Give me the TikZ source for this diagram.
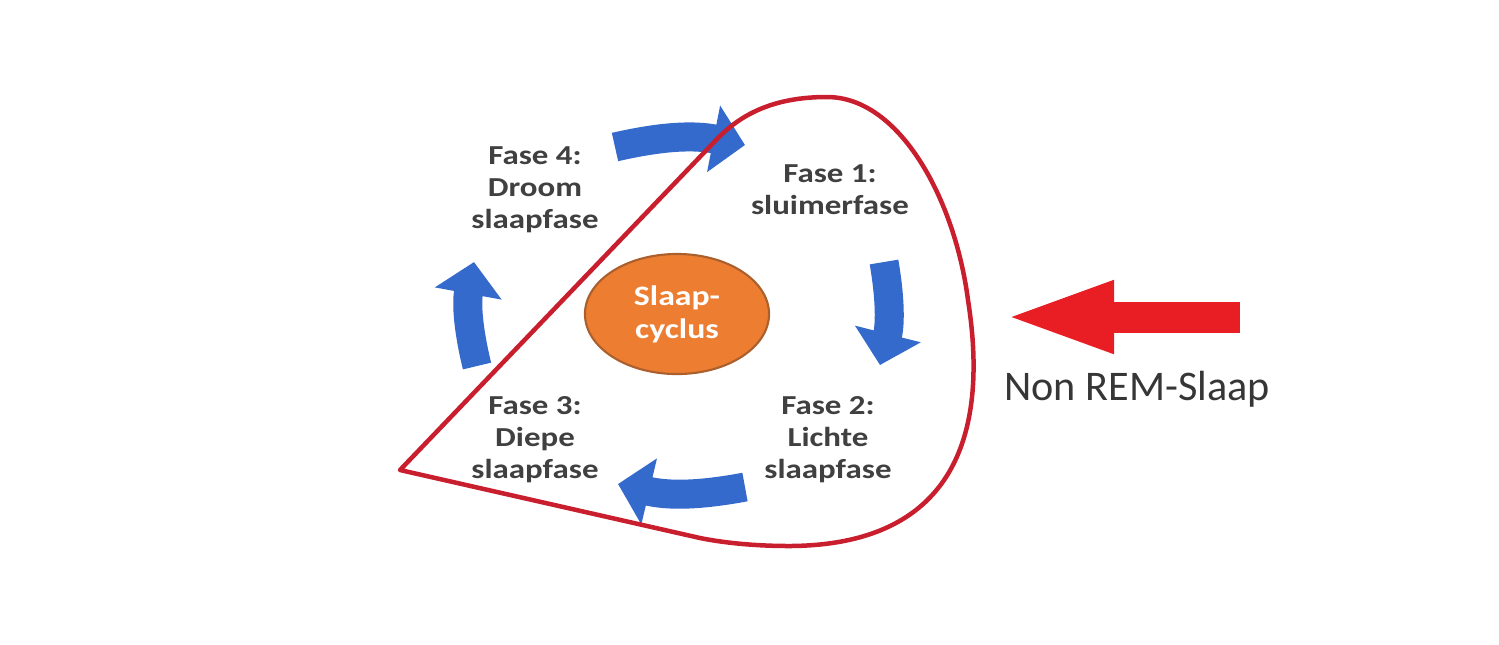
\documentclass[tikz,border=0pt]{standalone}
\usepackage{fontspec}
\setmainfont{Carlito}
\newfontfamily\fasefont[FakeStretch=1.2]{Carlito}
\usepackage{tikz}
\usetikzlibrary{arrows.meta, shapes.geometric}
\definecolor{cycleblue}{RGB}{52,106,204}
\definecolor{cycleorange}{RGB}{237,125,49}
\definecolor{cycleborder}{RGB}{170,95,45}
\definecolor{outlinered}{RGB}{200,30,45}
\definecolor{arrowred}{RGB}{232,30,36}
\definecolor{labelgray}{RGB}{64,64,64}

\begin{document}
\begin{tikzpicture}[x=0.01cm, y=-0.01cm]
    % Setup the styles
        \tikzset{fase style/.style={align=center,
                                    text=labelgray,
                                    font=\fasefont\bfseries\fontsize{7.8}{9.1}\selectfont},
                 cycle arrow/.style={line width=0.29cm,
                                     color=cycleblue,
                                     bend left=12,
                                     -{Triangle[width=0.66cm,length=0.32cm]}}}
        \useasboundingbox (0, 0) rectangle (1499, 644);

        % Draw the phases
        \node[fase style] at (535, 190)  (fase4) {Fase 4:\\Droom\\slaapfase};
        \node[fase style] at (830, 190)  (fase1) {Fase 1:\\sluimerfase};
        \node[fase style] at (828, 440)  (fase2) {Fase 2:\\Lichte\\slaapfase};
        \node[fase style] at (535, 440)  (fase3) {Fase 3:\\Diepe\\slaapfase};
        \node[ellipse, minimum width=1.84cm, minimum height=1.2cm,
              fill=cycleorange, draw=cycleborder, line width=0.6pt,
              text=white, align=center,
              font=\fasefont\bfseries\fontsize{8}{9.4}\selectfont]
              at (677, 314) (cyclus) {Slaap-\\cyclus};
        \node[text=labelgray!85!black, font=\fontsize{12}{14}\selectfont]
              at (1137, 389) (nonrem) {Non REM-Slaap};

        % Ends of the arrows
        \coordinate (f4out) at (615, 147);
        \coordinate (f1in)  at (745, 145);
        \coordinate (f1out) at (884, 262);
        \coordinate (f2in)  at (880, 365);
        \coordinate (f2out) at (745, 487);
        \coordinate (f3in)  at (618, 484);
        \coordinate (f3out) at (477, 366);
        \coordinate (f4in)  at (474, 262);
        \coordinate (remtail) at (1240, 317);
        \coordinate (remtip)  at (1001, 317);

        % Connect the phases with arrows
        \path
            (f4out) edge[cycle arrow] (f1in)
            (f1out) edge[cycle arrow] (f2in)
            (f2out) edge[cycle arrow] (f3in)
            (f3out) edge[cycle arrow] (f4in);

        % Outline of the non REM part
        \coordinate (corner) at (400, 470);
        \draw[outlinered, line width=0.045cm, line join=round]
            (corner) -- (718, 138)
            .. controls (750, 105) and (790, 97) .. (827, 97)
            .. controls (900, 97) and (955, 200) .. (968, 300)
            .. controls (990, 440) and (950, 545) .. (790, 546)
            .. controls (750, 546) and (720, 542) .. (700, 538)
            -- cycle;

        % Red arrow
        \draw[arrowred, line width=0.31cm,
              -{Triangle[width=0.64cm,length=1.13cm]}]
            (remtail) -- (remtip);
\end{tikzpicture}
\end{document}
